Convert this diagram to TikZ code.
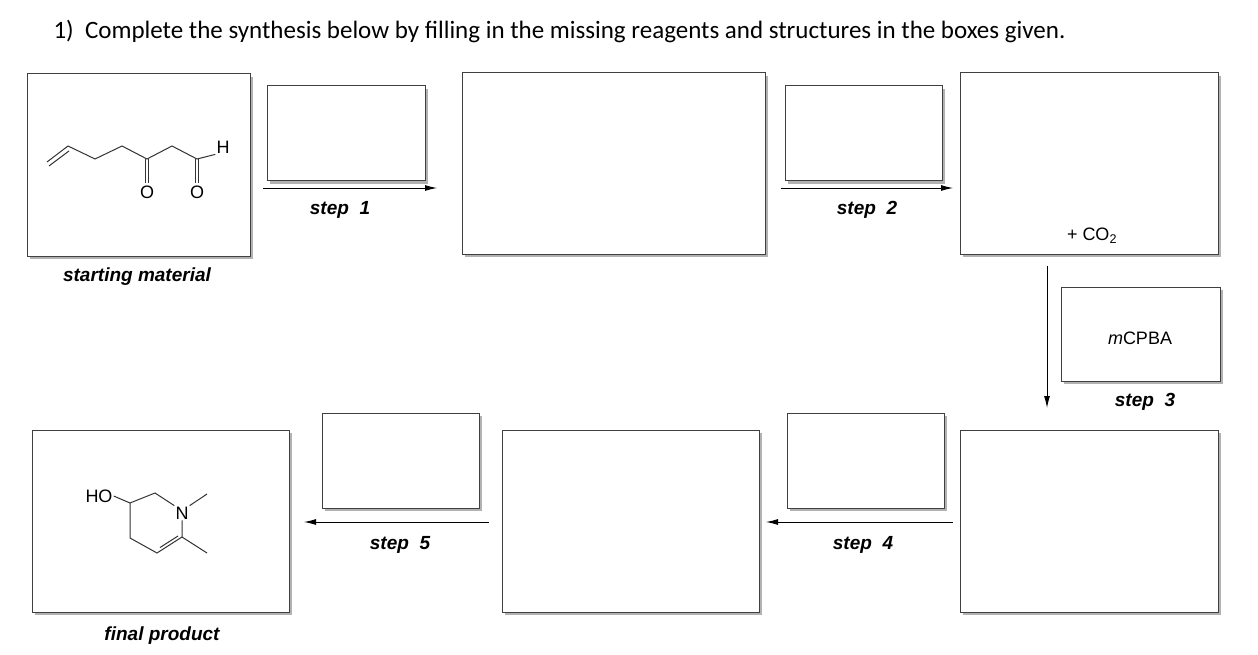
\documentclass[tikz,border=0pt]{standalone}
\usepackage{fontspec}
\setmainfont{Liberation Sans}
\newfontfamily\titlefont{Carlito}
\usetikzlibrary{arrows.meta}
\begin{document}
\begin{tikzpicture}[x=1pt,y=-1pt,
  bx/.style={draw=black!75,line width=1pt,fill=white},
  sh/.style={fill=black!30},
  arr/.style={-{Latex[length=12pt,width=6pt]},line width=0.9pt},
  lab/.style={font=\fontsize{19}{22}\selectfont\bfseries\itshape},
  atm/.style={font=\fontsize{18}{20}\selectfont,inner sep=1pt},
  bd/.style={line width=1pt,black!80}]
\useasboundingbox (0,0) rectangle (1258,655);
\newcommand\shbox[5]{\fill[sh] (#1+3,#2+3) rectangle (#3+3,#4+3);
  \draw[bx] (#1,#2) rectangle (#3,#4); \coordinate (#5) at (#1,#2);}
\node[anchor=west,font=\titlefont\fontsize{25}{28}\selectfont] (title) at (50,32) {1)\ \ Complete the synthesis below by filling in the missing reagents and structures in the boxes given.};
\shbox{27}{74}{250}{256}{b0}
\shbox{267}{86}{425}{181}{r1}
\shbox{462}{73}{765}{254}{b1}
\shbox{785}{86}{942}{181}{r2}
\shbox{960}{73}{1218}{254}{b2}
\shbox{1061}{287}{1220}{381}{r3}
\shbox{960}{430}{1218}{612}{b3}
\shbox{787}{413}{944}{508}{r4}
\shbox{502}{430}{759}{612}{b4}
\shbox{322}{413}{479}{508}{r5}
\shbox{32}{430}{289}{612}{b5}
% arrows
\coordinate (a1s) at (263,188); \coordinate (a1e) at (437,188);
\coordinate (a2s) at (781,188); \coordinate (a2e) at (953,188);
\coordinate (a3s) at (1047,266); \coordinate (a3e) at (1047,408);
\coordinate (a4s) at (953,522); \coordinate (a4e) at (766,522);
\coordinate (a5s) at (489,522); \coordinate (a5e) at (304,522);
\draw[arr] (a1s)--(a1e); \draw[arr] (a2s)--(a2e); \draw[arr] (a3s)--(a3e);
\draw[arr] (a4s)--(a4e); \draw[arr] (a5s)--(a5e);
\node[lab] (s1) at (340,210) {step\ \ 1};
\node[lab] (s2) at (867,210) {step\ \ 2};
\node[lab] (s3) at (1145,402) {step\ \ 3};
\node[lab] (s4) at (863,545) {step\ \ 4};
\node[lab] (s5) at (400,545) {step\ \ 5};
\node[lab] (sm) at (137,277) {starting material};
\node[lab] (fp) at (162,636) {final product};
\node[font=\fontsize{18}{20}\selectfont] (co2) at (1092,236) {+ CO\textsubscript{2}};
\node[font=\fontsize{18}{20}\selectfont] (mc) at (1140,338) {\textit{m}CPBA};
% starting material
\node[atm] (o1) at (147,192) {O};
\node[atm] (o2) at (197,192) {O};
\node[atm] (h) at (223,147) {H};
\draw[bd] (68,146)--(95,159)--(122,146)--(147,159)--(172,146)--(197,159)--(h.south west);
\draw[bd] (47,162)--(68,146); \draw[bd] (49,166)--(69,151);
\draw[bd] (145.5,159)--(145.5,183); \draw[bd] (148.5,159)--(148.5,183);
\draw[bd] (195.5,159)--(195.5,183); \draw[bd] (198.5,159)--(198.5,183);
% final product
\node[atm] (ho) at (99,496) {HO};
\node[atm] (n) at (182,513) {N};
\draw[bd] (ho.east)--(130,503)--(155,493)--(n.north west);
\draw[bd] (n.north east)--(207,494);
\draw[bd] (n.south)--(182,537)--(207,553);
\draw[bd] (182,537)--(157,553)--(130,538)--(130,503);
\draw[bd] (178,536)--(160,547.5);
\end{tikzpicture}
\end{document}
